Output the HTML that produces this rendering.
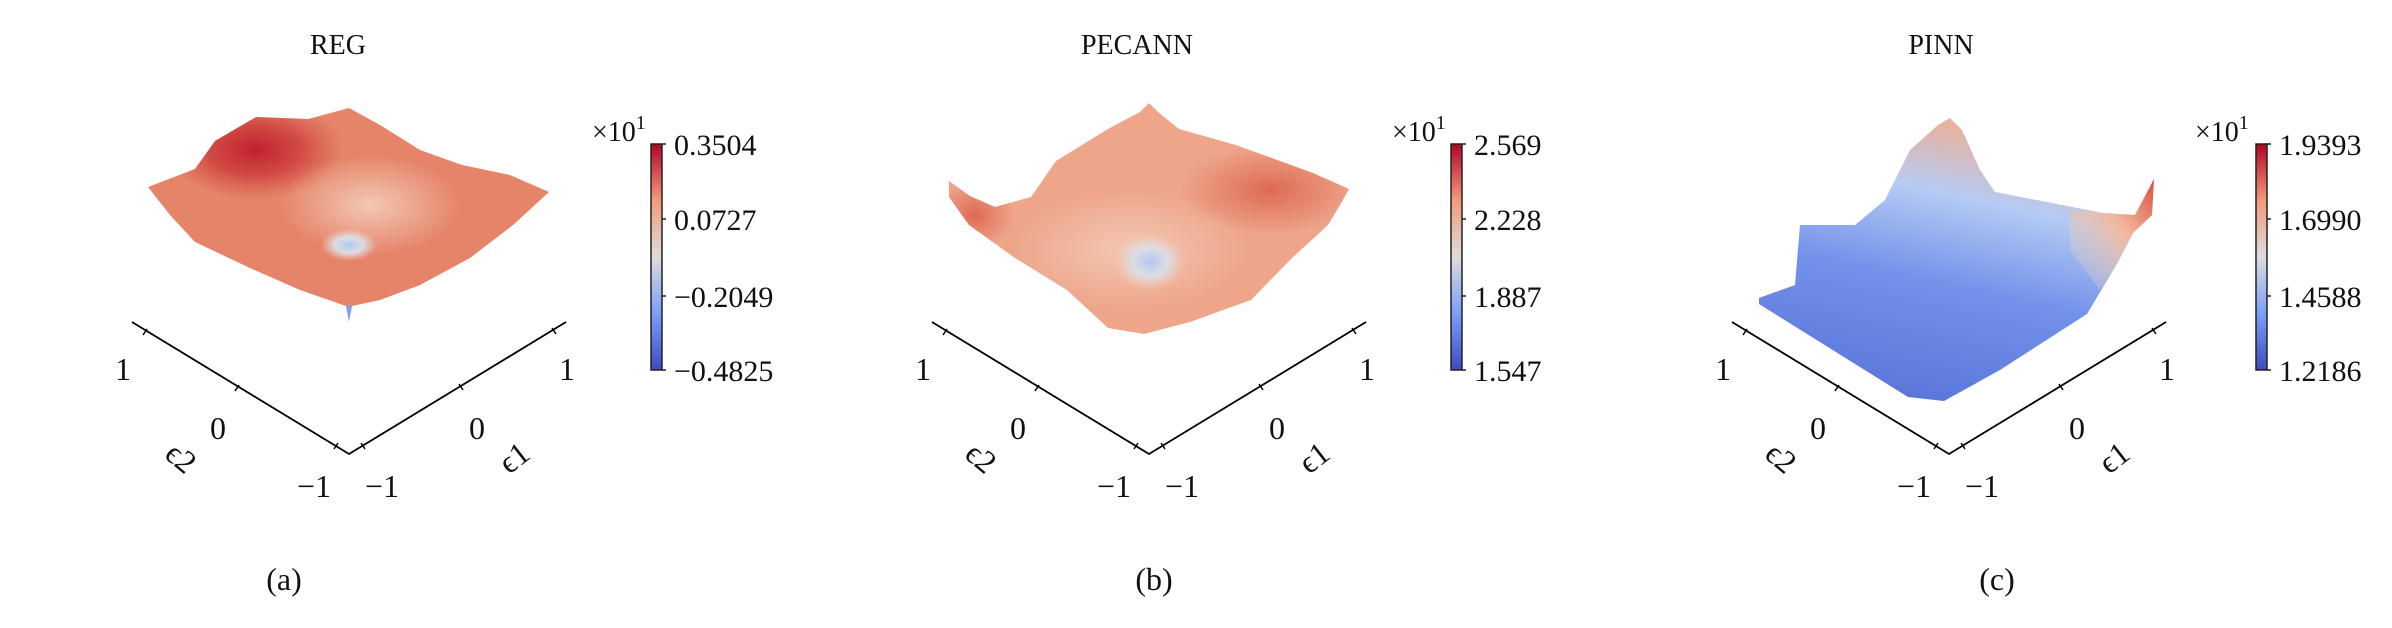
<!DOCTYPE html>
<html><head><meta charset="utf-8"><style>
html,body{margin:0;padding:0;background:#fff;}
svg{display:block;}
text{font-family:"Liberation Serif","DejaVu Serif",serif;fill:#111;}
</style></head><body>
<svg width="2392" height="628" viewBox="0 0 2392 628" xmlns="http://www.w3.org/2000/svg">
<defs>
<linearGradient id="cw" x1="0" y1="1" x2="0" y2="0">
<stop offset="0" stop-color="#3b4cc0"/><stop offset="0.25" stop-color="#7b9ff9"/>
<stop offset="0.5" stop-color="#dddcdc"/><stop offset="0.75" stop-color="#f49a7b"/>
<stop offset="1" stop-color="#b40426"/></linearGradient>
<radialGradient id="aRed" cx="0.5" cy="0.5" r="0.5"><stop offset="0" stop-color="#c0202f"/><stop offset="0.5" stop-color="#cc3a3a" stop-opacity="0.8"/><stop offset="1" stop-color="#d0503f" stop-opacity="0"/></radialGradient>
<radialGradient id="light" cx="0.5" cy="0.5" r="0.5"><stop offset="0" stop-color="#f3c8b4"/><stop offset="1" stop-color="#f3c8b4" stop-opacity="0"/></radialGradient>
<radialGradient id="dip" cx="0.5" cy="0.5" r="0.5"><stop offset="0" stop-color="#b4c6ee"/><stop offset="0.5" stop-color="#dcdde4"/><stop offset="1" stop-color="#e8d6cf" stop-opacity="0"/></radialGradient>
<radialGradient id="bRed" cx="0.5" cy="0.5" r="0.5"><stop offset="0" stop-color="#de6a55"/><stop offset="1" stop-color="#de6a55" stop-opacity="0"/></radialGradient>
<linearGradient id="cBase" x1="0.2" y1="1" x2="0.5" y2="0"><stop offset="0" stop-color="#5872d8"/><stop offset="0.45" stop-color="#7392ea"/><stop offset="0.75" stop-color="#b6cbf4"/><stop offset="1" stop-color="#eeaf94"/></linearGradient>
<linearGradient id="cRight" x1="0" y1="1" x2="1" y2="0"><stop offset="0" stop-color="#dcdad8" stop-opacity="0"/><stop offset="0.6" stop-color="#f2b79c"/><stop offset="1" stop-color="#d9503f"/></linearGradient>
<clipPath id="clipA"><polygon points="148,187 195,169 215,141 256,117 308,119 349,108 380,125 420,150 462,165 510,175 549,192 513,225 470,258 420,285 380,300 352,306 349,320 346,306 300,290 250,268 195,242 170,215"/></clipPath>
<clipPath id="clipB"><polygon points="149,181 170,196 195,207 231,197 256,161 308,129 340,112 349,103 358,112 379,129 436,145 513,173 549,189 540,205 528,225 492,258 451,300 390,322 344,334 308,328 267,290 215,258 169,225 149,197"/></clipPath>
<g id="axes">
<path d="M132,322 L349,454 L566,322" fill="none" stroke="#000" stroke-width="1.8"/>
<path d="M143,335 l4,-6 M235,391 l4,-6 M334,449 l4,-6 M361,443 l4,6 M459,384 l4,6 M552,328 l4,6" stroke="#000" stroke-width="1.5"/>
<text x="123" y="380" font-size="32" text-anchor="middle">1</text>
<text x="218" y="439" font-size="32" text-anchor="middle">0</text>
<text x="314" y="497" font-size="32" text-anchor="middle">−1</text>
<text x="382" y="497" font-size="32" text-anchor="middle">−1</text>
<text x="477" y="439" font-size="32" text-anchor="middle">0</text>
<text x="567" y="380" font-size="32" text-anchor="middle">1</text>
<text x="180" y="468" font-size="32" text-anchor="middle" transform="rotate(40 180 459)">ϵ2</text>
<text x="515" y="468" font-size="32" text-anchor="middle" transform="rotate(-38 515 459)">ϵ1</text>
</g>
</defs>

<!-- Panel a -->
<g>
<text x="338" y="54" font-size="28" text-anchor="middle">REG</text>
<g clip-path="url(#clipA)">
<rect x="140" y="100" width="420" height="225" fill="#e6846a"/>
<ellipse cx="255" cy="150" rx="90" ry="50" fill="url(#aRed)"/>
<ellipse cx="370" cy="205" rx="90" ry="50" fill="url(#light)"/>
<ellipse cx="349" cy="245" rx="28" ry="16" fill="url(#dip)"/>
</g>
<path d="M346,306 L349,322 L352,306 Z" fill="#7b9ff9"/>
<use href="#axes"/>
<text x="284" y="590" font-size="32" text-anchor="middle">(a)</text>
<rect x="651" y="144" width="11" height="226" fill="url(#cw)" stroke="#222" stroke-width="1.5"/>
<path d="M662,144h4M662,219h4M662,296h4M662,370h4" stroke="#222" stroke-width="1.5"/>
<text x="674" y="155" font-size="30">0.3504</text>
<text x="674" y="230" font-size="30">0.0727</text>
<text x="674" y="307" font-size="30">−0.2049</text>
<text x="674" y="381" font-size="30">−0.4825</text>
<text x="592" y="141" font-size="28">×10<tspan dy="-12" font-size="20">1</tspan></text>
</g>

<!-- Panel b -->
<g transform="translate(800,0)">
<text x="337" y="54" font-size="28" text-anchor="middle">PECANN</text>
<g clip-path="url(#clipB)">
<rect x="140" y="95" width="420" height="245" fill="#eea58a"/>
<ellipse cx="470" cy="190" rx="90" ry="45" fill="url(#bRed)"/>
<ellipse cx="175" cy="215" rx="40" ry="35" fill="url(#bRed)"/>
<ellipse cx="330" cy="250" rx="120" ry="60" fill="url(#light)"/>
<ellipse cx="350" cy="262" rx="35" ry="28" fill="url(#dip)"/>
</g>
<use href="#axes"/>
<text x="354" y="590" font-size="32" text-anchor="middle">(b)</text>
<rect x="651" y="144" width="11" height="226" fill="url(#cw)" stroke="#222" stroke-width="1.5"/>
<path d="M662,144h4M662,219h4M662,296h4M662,370h4" stroke="#222" stroke-width="1.5"/>
<text x="674" y="155" font-size="30">2.569</text>
<text x="674" y="230" font-size="30">2.228</text>
<text x="674" y="307" font-size="30">1.887</text>
<text x="674" y="381" font-size="30">1.547</text>
<text x="592" y="141" font-size="28">×10<tspan dy="-12" font-size="20">1</tspan></text>
</g>

<!-- Panel c -->
<g transform="translate(1600,0)">
<text x="341" y="54" font-size="28" text-anchor="middle">PINN</text>
<polygon points="159,298 195,285 200,225 255,225 285,200 310,150 338,125 350,118 362,130 380,170 395,192 421,197 503,213 535,215 554,179 552,215 533,233 518,262 487,314 400,370 344,401 308,397 159,304" fill="url(#cBase)"/>
<polygon points="470,210 503,213 535,215 554,179 552,215 533,233 518,262 500,290 470,250" fill="url(#cRight)"/>
<use href="#axes"/>
<text x="397" y="590" font-size="32" text-anchor="middle">(c)</text>
<rect x="656" y="144" width="11" height="226" fill="url(#cw)" stroke="#222" stroke-width="1.5"/>
<path d="M667,144h4M667,219h4M667,296h4M667,370h4" stroke="#222" stroke-width="1.5"/>
<text x="679" y="155" font-size="30">1.9393</text>
<text x="679" y="230" font-size="30">1.6990</text>
<text x="679" y="307" font-size="30">1.4588</text>
<text x="679" y="381" font-size="30">1.2186</text>
<text x="595" y="141" font-size="28">×10<tspan dy="-12" font-size="20">1</tspan></text>
</g>
</svg>
</body></html>
